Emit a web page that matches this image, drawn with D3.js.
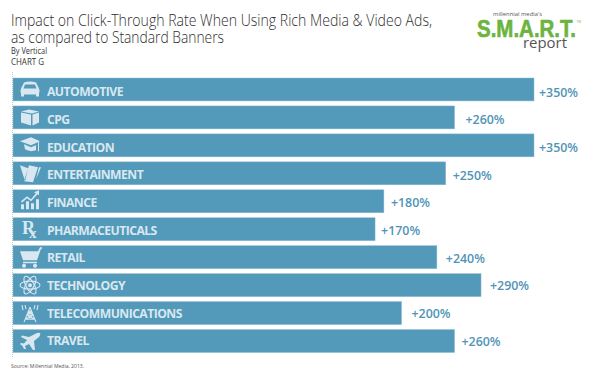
<!DOCTYPE html>
<html>
<head>
<meta charset="utf-8">
<script src="https://cdn.jsdelivr.net/npm/d3@7"></script>
<style>
    html, body { margin: 0; padding: 0; background: #fff; }
    svg { display: block; }
    text { font-family: "Open Sans", sans-serif; }
</style>
</head>
<body>
<svg id="chart" width="594" height="383"></svg>
<script>
    let categories = ["AUTOMOTIVE", "CPG", "EDUCATION", "ENTERTAINMENT", "FINANCE",
        "PHARMACEUTICALS", "RETAIL", "TECHNOLOGY", "TELECOMMUNICATIONS", "TRAVEL"];
    let values = [350, 260, 350, 250, 180, 170, 240, 290, 200, 260];
    let titleLines = ["Impact on Click-Through Rate When Using Rich Media & Video Ads,",
        "as compared to Standard Banners"];
    let titleWidths = [421, 213];

    // the value labels sit at uneven distances from the bar ends in the original
    let labelGaps = [5, 11, 5, 7, 7, 6, 9, 9, 10, 7];

    let lightBlue = "#d9e8f0";

    // icon outlines, drawn around 0,0
    let icons = [
        "M-9,-1 L-6,-7 Q0,-9 6,-7 L9,-1 Q10,1 9,4 L9,7 L6,7 L6,5 L-6,5 L-6,7 L-9,7 L-9,4 Q-10,1 -9,-1 Z M-5,-5 L-6.5,-1 L6.5,-1 L5,-5 Z",
        "M-9,-6 L-1,-8 L9,-6 L2,-4 Z M-9,-5 L1,-3 L1,8 L-9,5 Z M2.5,-3 L9,-5 L9,5 L2.5,8 Z",
        "M-10,-4 L1,-8 L10,-4 L1,0 Z M-6,-1 L1,2 L6,0 L6,5 Q0,7 -5,4 Z M8,-3 L9,-3 L9,6 L8,6 Z",
        "M-10,-8 L-2,-5 L-5,8 Z M-1,-8 L8,-6 L3,9 L-6,8 Z M9,-6 L11,-6 L6,6 Z",
        "M-9,3 L-6,3 L-6,8 L-9,8 Z M-4,0 L-1,0 L-1,8 L-4,8 Z M1,2 L4,2 L4,8 L1,8 Z M6,-2 L9,-2 L9,8 L6,8 Z M-9,0 L-3,-5 L1,-2 L6,-8 L4,-9 L9,-11 L9,-6 L7.5,-7 L1,0 L-3,-3 L-8,1.5 Z",
        "",
        "M-10,-6 L8,-6 L10,-10 L12,-10 L12,-8.5 L11,-8.5 L7,3 L-7,3 Z M-7,4.5 L7,4.5 L7,6 L-7,6 Z M-6,6.5 A2,2 0 1 0 -5.9,6.5 Z M5,6.5 A2,2 0 1 0 5.1,6.5 Z",
        "M-2,0 A2,2 0 1 0 2,0 A2,2 0 1 0 -2,0 Z",
        "",
        "M10,-8 Q11,-7 9,-4 L4,0 L5,9 L3,9 L-1,3 L-5,5 L-4,8 L-6,8 L-7.5,5 L-10,3 L-9,2 L-6,2.5 L-3,-1 L-9,-4 L-8,-5.5 L-1,-4 L5,-7 Q8,-9 10,-8 Z"
    ];
    let towerLines = "M0,-6 L-6,9 M0,-6 L6,9 M-3.5,2 L3.5,2 M-4.8,6 L4.8,6 M-2.2,-2 L2.2,-2 M-3.5,2 L4.8,6 M3.5,2 L-4.8,6 M-2.2,-2 L3.5,2 M2.2,-2 L-3.5,2 M-8,-8 L-7,-3 M8,-8 L7,-3 M-5,-8 L-4,-4 M5,-8 L4,-4";

    let svg = d3.select("#chart");

    // bars do not start at zero in the original
    let x = d3.scaleLinear().domain([-240, 350]).range([13, 534]);
    let y = d3.scaleBand().domain(categories).range([78, 352.5]).paddingInner(0.18);
    // the labels run on a slightly tighter step than the bars
    let labelY = d3.scalePoint().domain(categories).range([92, 341]);

    // dotted line on the left
    svg.append("line")
        .attr("x1", 12.5).attr("x2", 12.5)
        .attr("y1", 72).attr("y2", 357)
        .attr("stroke", "#c8c8c8")
        .attr("stroke-dasharray", "1,1");

    svg.selectAll("text.title")
        .data(titleLines)
        .enter()
        .append("text")
        .attr("class", "title")
        .attr("x", 11)
        .attr("y", (d, i) => 26 + i * 16.8)
        .attr("font-size", 15.6)
        .attr("font-weight", 300)
        .attr("textLength", (d, i) => titleWidths[i])
        .attr("lengthAdjust", "spacingAndGlyphs")
        .attr("fill", "#2e2e2e")
        .text((d) => d);

    svg.append("text").attr("x", 11).attr("y", 54)
        .attr("font-size", 8.4).attr("fill", "#333")
        .attr("textLength", 36).attr("lengthAdjust", "spacingAndGlyphs")
        .text("By Vertical");
    svg.append("text").attr("x", 11).attr("y", 65)
        .attr("font-size", 8.4).attr("fill", "#333")
        .attr("textLength", 33).attr("lengthAdjust", "spacingAndGlyphs")
        .text("CHART G");

    // logo
    svg.append("text").attr("x", 493).attr("y", 16)
        .attr("font-size", 6).attr("fill", "#555")
        .attr("textLength", 49).attr("lengthAdjust", "spacingAndGlyphs")
        .text("millennial media's");
    svg.append("text").attr("x", 477).attr("y", 36.8)
        .attr("style", "font-family:'Liberation Sans'")
        .attr("font-size", 23.5).attr("font-weight", 700)
        .attr("fill", "#6cb33f")
        .attr("stroke", "#6cb33f").attr("stroke-width", 0.6)
        .attr("textLength", 99).attr("lengthAdjust", "spacingAndGlyphs")
        .text("S.M.A.R.T.");
    svg.append("text").attr("x", 576.5).attr("y", 22.5)
        .attr("font-size", 3).attr("fill", "#6cb33f")
        .text("TM");
    svg.append("text").attr("x", 523).attr("y", 47.5)
        .attr("font-size", 14.5).attr("fill", "#555")
        .attr("textLength", 44).attr("lengthAdjust", "spacingAndGlyphs")
        .text("report");

    let rows = svg.selectAll("g.row")
        .data(categories)
        .enter()
        .append("g")
        .attr("class", "row");

    rows.append("rect")
        .attr("x", x(-240))
        .attr("y", (d) => y(d))
        .attr("width", (d, i) => x(values[i]) - x(-240))
        .attr("height", y.bandwidth())
        .attr("fill", "#5299ba")
        .attr("stroke", "#8abad1")
        .attr("stroke-width", 0.5);

    rows.append("text")
        .attr("x", 47)
        .attr("y", (d) => labelY(d) + 4.4)
        .attr("font-size", 12.2)
        .attr("font-weight", 700)
        .attr("letter-spacing", -0.55)
        .attr("fill", lightBlue)
        .text((d) => d);

    rows.append("text")
        .attr("x", (d, i) => x(values[i]) + labelGaps[i])
        .attr("y", (d) => labelY(d) + 4.6)
        .attr("font-size", 12.4)
        .attr("font-weight", 600)
        .attr("fill", "#4f94b6")
        .text((d, i) => "+" + values[i] + "%");

    let iconSpot = (d) => `translate(30, ${y(d) + y.bandwidth() / 2})`;

    rows.append("path")
        .attr("transform", iconSpot)
        .attr("d", (d, i) => icons[i])
        .attr("fill", lightBlue)
        .attr("fill-rule", "evenodd");

    // Rx is made of letters, atom gets its orbits, tower is line work
    let pharma = rows.filter((d) => d === "PHARMACEUTICALS");
    pharma.append("text")
        .attr("x", 22).attr("y", (d) => y(d) + 16)
        .attr("style", "font-family:'Liberation Serif'")
        .attr("font-size", 18)
        .attr("font-weight", 700)
        .attr("fill", lightBlue)
        .text("R");
    pharma.append("text")
        .attr("x", 29).attr("y", (d) => y(d) + 20.5)
        .attr("style", "font-family:'Liberation Serif'")
        .attr("font-size", 15)
        .attr("font-weight", 700)
        .attr("fill", lightBlue)
        .text("x");

    rows.filter((d) => d === "TECHNOLOGY")
        .selectAll("ellipse")
        .data((d) => [0, 60, 120].map((a) => ({ a: a, row: d })))
        .enter()
        .append("ellipse")
        .attr("transform", (o) => `${iconSpot(o.row)} rotate(${o.a})`)
        .attr("rx", 10)
        .attr("ry", 4)
        .attr("fill", "none")
        .attr("stroke", lightBlue)
        .attr("stroke-width", 1.1);

    rows.filter((d) => d === "TELECOMMUNICATIONS")
        .append("path")
        .attr("transform", iconSpot)
        .attr("d", towerLines)
        .attr("fill", "none")
        .attr("stroke", lightBlue)
        .attr("stroke-width", 1.1);

    svg.append("text").attr("x", 11).attr("y", 367.5)
        .attr("font-size", 6).attr("fill", "#555")
        .attr("textLength", 73).attr("lengthAdjust", "spacingAndGlyphs")
        .text("Source: Millennial Media, 2013.");
</script>
</body>
</html>
